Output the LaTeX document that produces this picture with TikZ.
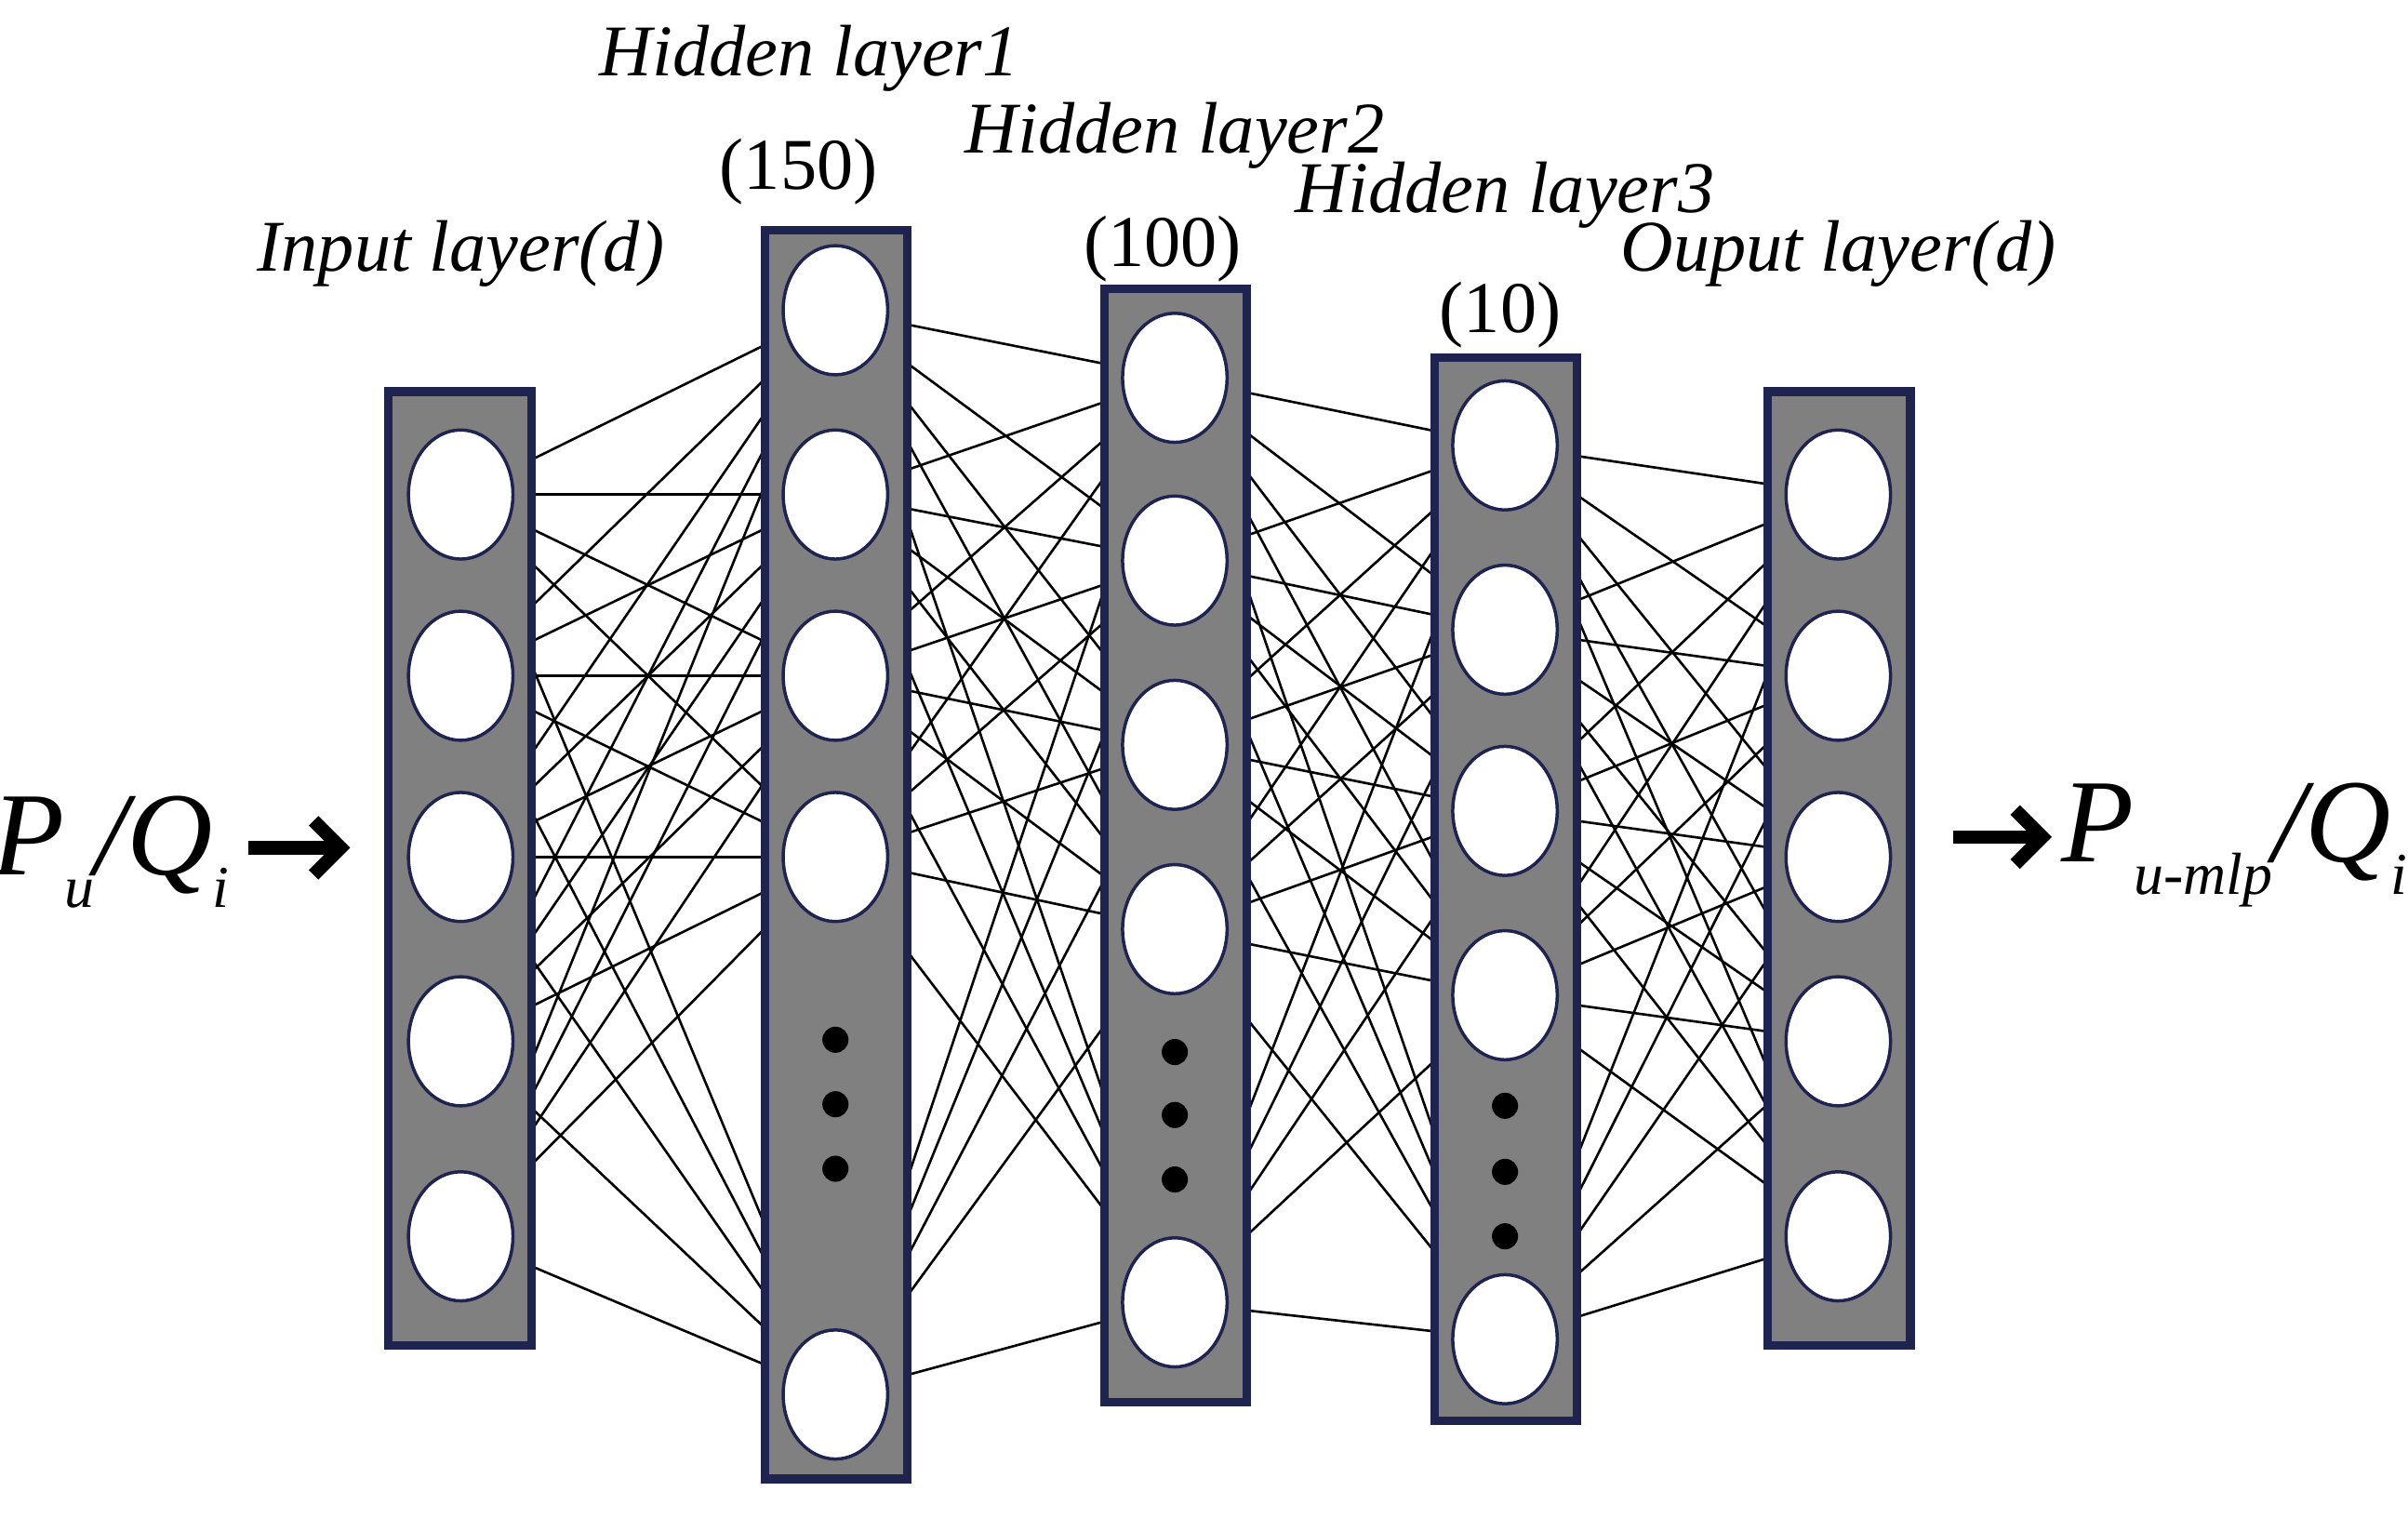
\documentclass[tikz,border=0pt]{standalone}
\usepackage{fontspec}
\setmainfont{Liberation Serif}
\usetikzlibrary{shapes.geometric,arrows.meta}
\newcommand{\subsc}[1]{\raisebox{-0.6ex}{\fontsize{11}{12}\selectfont #1}}
\begin{document}
\begin{tikzpicture}[x=0.01cm,y=-0.01cm,
  box/.style={draw=navy,fill=boxgray,line width=1.6pt},
  neuron/.style={draw=navy,fill=white,ellipse,minimum width=0.68cm,minimum height=0.84cm,line width=0.6pt,inner sep=0pt},
  dot/.style={circle,fill=black,inner sep=0pt,minimum size=0.17cm},
  lbl/.style={font=\fontsize{13.5}{15}\selectfont\itshape},
  num/.style={font=\fontsize{13.5}{15}\selectfont},
  conn/.style={line width=0.45pt}]
\definecolor{navy}{RGB}{30,35,80}
\definecolor{boxgray}{RGB}{128,128,128}
\useasboundingbox (0,0) rectangle (1568,988);
% centres
\foreach \y [count=\i] in {322,440,558,678,805} {\coordinate (a\i) at (300,\y);}
\foreach \y [count=\i] in {202,322,440,558,908} {\coordinate (b\i) at (544,\y);}
\foreach \y [count=\i] in {246,365,485,605,848} {\coordinate (c\i) at (765,\y);}
\foreach \y [count=\i] in {290,410,528,648,872} {\coordinate (d\i) at (980,\y);}
\foreach \y [count=\i] in {322,440,558,678,805} {\coordinate (e\i) at (1197,\y);}
% connectors
\foreach \i in {1,...,5}{\foreach \j in {1,...,5}{
  \draw[conn] (a\i) -- (b\j); \draw[conn] (b\i) -- (c\j);
  \draw[conn] (c\i) -- (d\j); \draw[conn] (d\i) -- (e\j);}}
% boxes
\draw[box] (253,255) rectangle (346,876);
\draw[box] (498,150) rectangle (591,963);
\draw[box] (719,188) rectangle (812,913);
\draw[box] (934,233) rectangle (1027,925);
\draw[box] (1151,255) rectangle (1244,876);
% neurons
\foreach \l in {a,b,c,d,e}{\foreach \i in {1,...,5}{\node[neuron] (n\l\i) at (\l\i) {};}}
\foreach \y [count=\i] in {677,719,761} {\node[dot] (db\i) at (544,\y) {};}
\foreach \y [count=\i] in {685,726,768} {\node[dot] (dc\i) at (765,\y) {};}
\foreach \y [count=\i] in {720,763,805} {\node[dot] (dd\i) at (980,\y) {};}
% labels
\node[lbl] (la) at (300,165) {Input layer(d)};
\node[lbl] (lb) at (527,38) {Hidden layer1};
\node[num] (nb) at (520,112) {(150)};
\node[lbl] (lc) at (765,88) {Hidden layer2};
\node[num] (nc) at (757,162) {(100)};
\node[lbl] (ld) at (980,127) {Hidden layer3};
\node[num] (nd) at (977,205) {(10)};
\node[lbl] (le) at (1197,165) {Ouput layer(d)};
% input / output
\node[font=\fontsize{22}{24}\selectfont\itshape] (pin) at (72,555) {P\subsc{u}/Q\subsc{i}};
\coordinate (ain) at (162,552);
\coordinate (ainb) at (228,552);
\draw[line width=2.5pt,-{Straight Barb[length=5pt]}] (ain) -- (ainb);
\coordinate (aout) at (1272,545);
\coordinate (aoutb) at (1336,545);
\draw[line width=2.5pt,-{Straight Barb[length=5pt]}] (aout) -- (aoutb);
\node[font=\fontsize{22}{24}\selectfont\itshape,anchor=west,inner sep=1pt] (pout) at (1338,550) {P\subsc{u-mlp}/Q\subsc{i-mlp}};
\end{tikzpicture}
\end{document}
